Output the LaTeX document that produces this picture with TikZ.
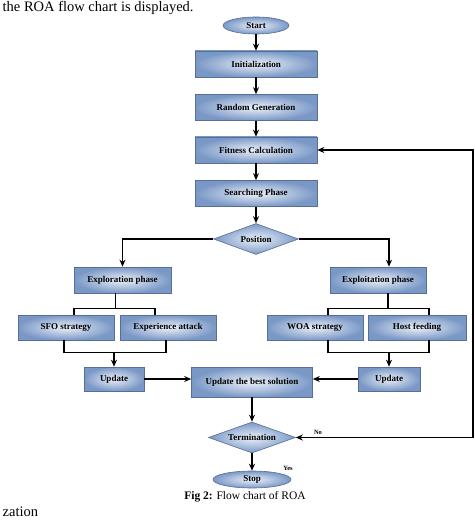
\documentclass[tikz,border=0pt]{standalone}
\usepackage{fontspec}
\setmainfont{Liberation Serif}
\usetikzlibrary{arrows.meta, shapes.geometric}

\definecolor{boxout}{RGB}{122,152,198}
\definecolor{boxin}{RGB}{236,241,249}
\definecolor{boxline}{RGB}{88,110,148}

\begin{document}
\begin{tikzpicture}[
            x = 1pt, y = -1pt, % pixel grid, y grows downwards
            > = {Stealth[length=7pt, width=6pt]}, % arrow head style
            line width = 1.4pt, % line style
            font = \bfseries\fontsize{9}{10}\selectfont
        ]

        \tikzstyle{block}=[
            rectangle,
            draw = boxline,
            line width = 0.6pt,
            inner color = boxin,
            outer color = boxout,
            minimum height = 26pt,
            inner sep = 0pt
        ]
        \tikzstyle{oval}=[block, ellipse, minimum height = 17pt]
        \tikzstyle{decision}=[block, diamond, aspect = 2.8, minimum height = 31pt]
        \tikzstyle{plain}=[font = \fontsize{14.5}{17}\selectfont, inner sep = 0pt]
        \tikzstyle{caption}=[font = \fontsize{11.5}{13}\selectfont, inner sep = 0pt]
        \tikzstyle{tag}=[font = \bfseries\fontsize{6.5}{7}\selectfont, inner sep = 0pt]

        \useasboundingbox (0,0) rectangle (474,521);

	\node[plain, anchor=base west] (intro) at (2,12) {the ROA flow chart is displayed.};

	\node[oval, minimum width=66pt] (start) at (256,25.5) {Start};
	\node[block, minimum width=122pt] (init) at (256,64) {Initialization};
	\node[block, minimum width=122pt] (rand) at (256,107.5) {Random Generation};
	\node[block, minimum width=122pt] (fit) at (256,150) {Fitness Calculation};
	\node[block, minimum width=122pt] (search) at (256,193.5) {Searching Phase};
	\node[decision, minimum width=85pt] (pos) at (256,239) {Position};

	\node[block, minimum width=97pt] (explor) at (122.5,280) {Exploration phase};
	\node[block, minimum width=96pt] (exploit) at (378,280) {Exploitation phase};
	\node[block, minimum width=96pt, minimum height=25pt] (sfo) at (66,327.5) {SFO strategy};
	\node[block, minimum width=96pt, minimum height=25pt] (attack) at (168,327.5) {Experience attack};
	\node[block, minimum width=96pt, minimum height=25pt] (woa) at (315,327.5) {WOA strategy};
	\node[block, minimum width=98pt, minimum height=25pt] (host) at (417,327.5) {Host feeding};

	\node[block, minimum width=60pt, minimum height=24pt] (updl) at (114,379) {Update};
	\node[block, minimum width=121pt, minimum height=30pt] (best) at (252,382) {Update the best solution};
	\node[block, minimum width=62pt, minimum height=24pt] (updr) at (389,379) {Update};
	\node[decision, minimum width=87pt] (term) at (252,437.5) {Termination};
	\node[oval, minimum width=78pt] (stop) at (252,479.5) {Stop};

	\node[tag] (no) at (318,432) {No};
	\node[tag] (yes) at (288,468) {Yes};
	\node[caption] (cap) at (245,497) {\textbf{Fig 2:} Flow chart of ROA};
	\node[plain, anchor=base west] (tail) at (2,516.5) {zation};

	\draw[->] (start) -- (init);
	\draw[->] (init) -- (rand);
	\draw[->] (rand) -- (fit);
	\draw[->] (fit) -- (search);
	\draw[->] (search) -- (pos);

	\draw[->] (pos.west) -| (explor.north);
	\draw[->] (pos.east) -| ([xshift=11pt]exploit.north);

	\draw ([xshift=-7pt]explor.south) -- ++(0,15) coordinate (lsplit);
	\draw ([xshift=8pt]sfo.north) |- (lsplit) -| ([xshift=-13pt]attack.north);
	\draw ([xshift=10pt]exploit.south) -- ++(0,15) coordinate (rsplit);
	\draw ([xshift=13pt]woa.north) |- (rsplit) -| ([xshift=12pt]host.north);

	\path (updl.north) ++(0,-14) coordinate (lmerge);
	\draw ([xshift=-2pt]sfo.south) |- (lmerge) -| ([xshift=-2pt]attack.south);
	\draw[->] (lmerge) -- (updl.north);
	\path (updr.north) ++(0,-14) coordinate (rmerge);
	\draw ([xshift=13pt]woa.south) |- (rmerge) -| ([xshift=12pt]host.south);
	\draw[->] (rmerge) -- (updr.north);

	\draw[->] (updl.east) -- (updl.east -| best.west);
	\draw[->] (updr.west) -- (updr.west -| best.east);
	\draw[->] (best) -- (term);
	\draw[->] (term) -- (stop);

	\coordinate (loop) at (473,300);
	\draw[<->] (term.east) -| (loop) |- (fit.east);

    \end{tikzpicture}
\end{document}
